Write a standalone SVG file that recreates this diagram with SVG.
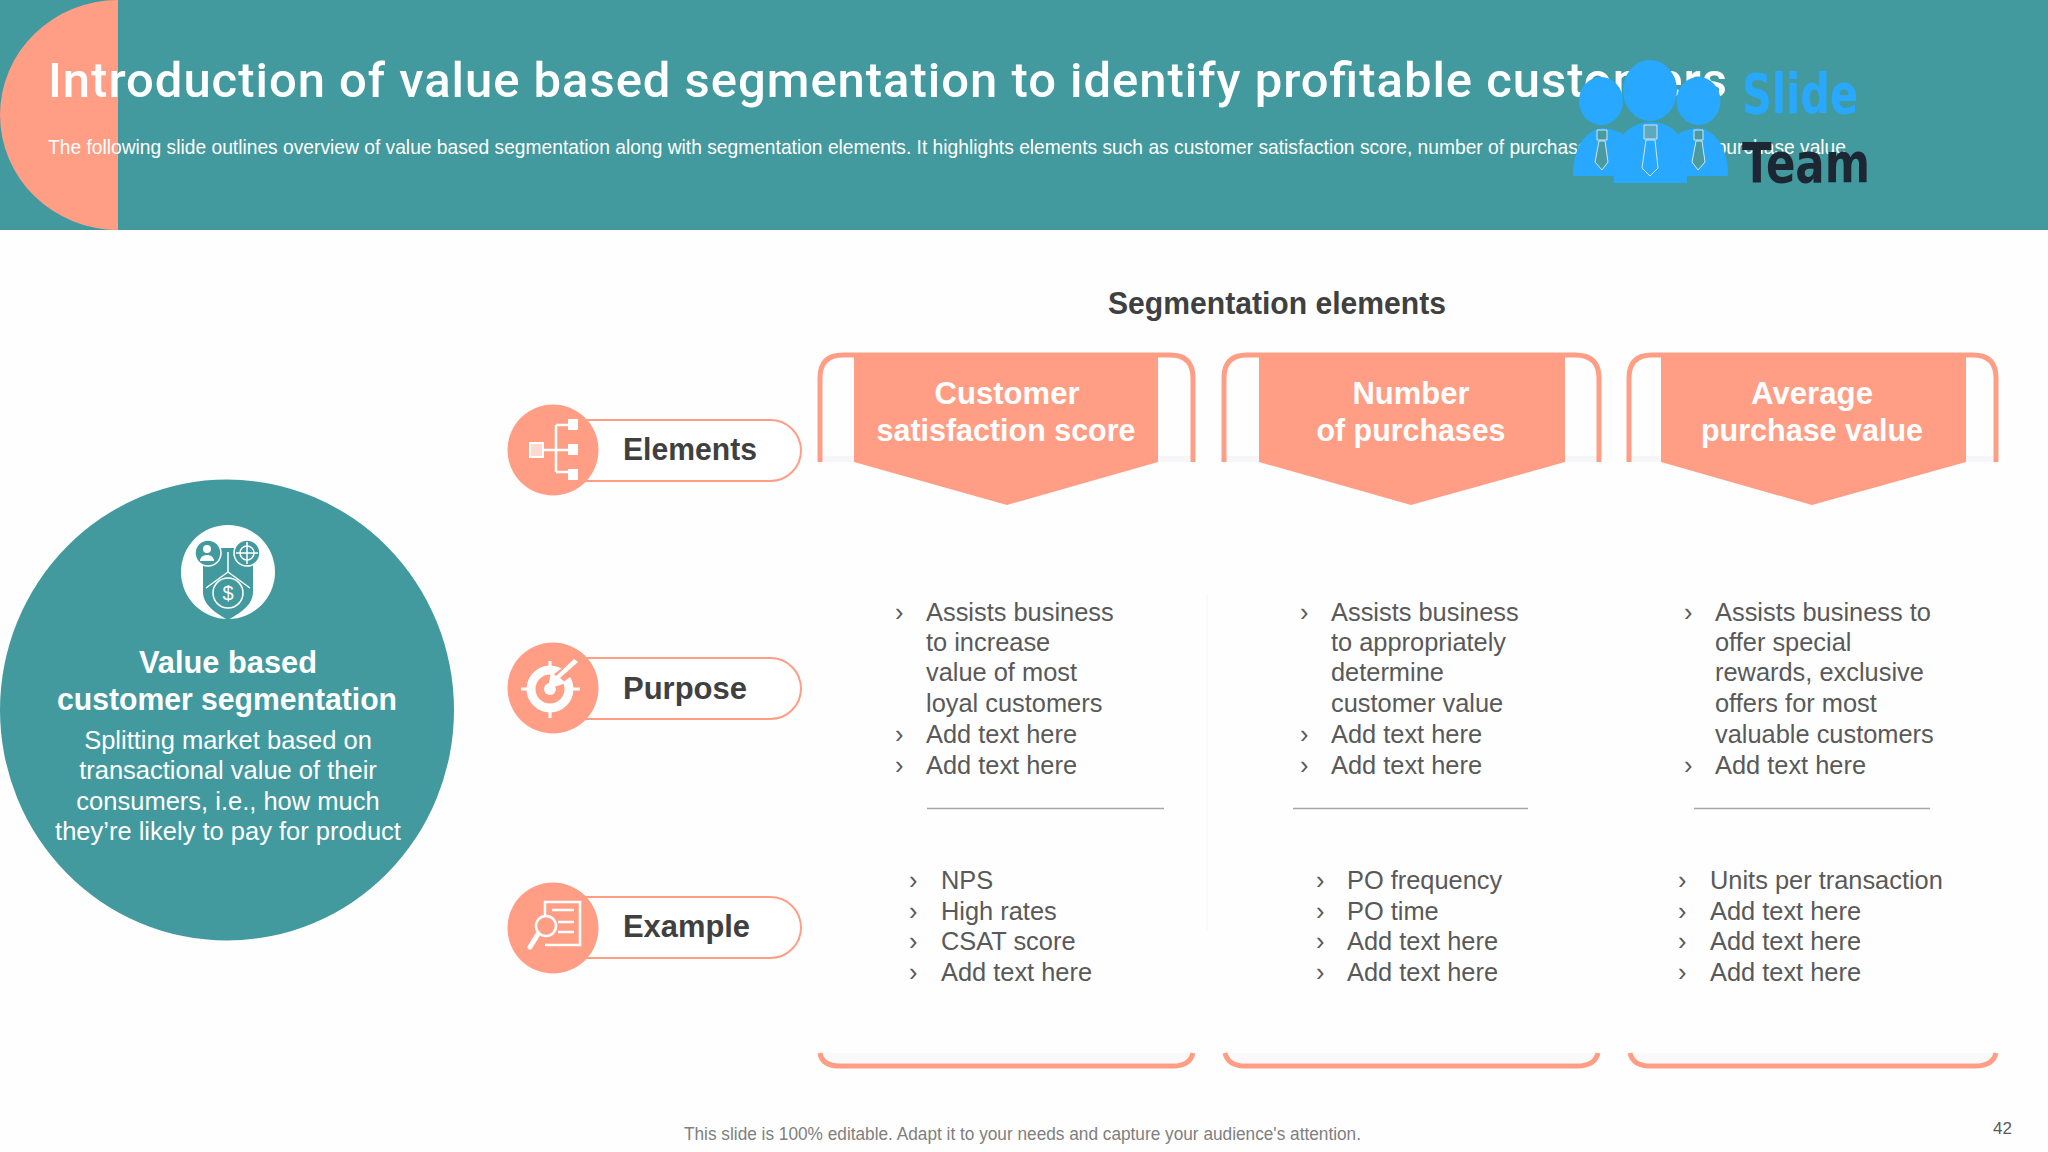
<svg xmlns="http://www.w3.org/2000/svg" width="2048" height="1152" viewBox="0 0 2048 1152">
<defs>
<style>
text{font-family:"Liberation Sans",Arial,sans-serif}
.s{fill:#ff9e85}
.lbl{font-size:31px;font-weight:700;fill:#404040}
.hd{font-size:32px;font-weight:700;fill:#fff;text-anchor:middle}
.b{font-size:25.4px;fill:#595959}
.w{font-size:25.5px;fill:#fff;text-anchor:middle}
.wb{font-size:32px;font-weight:700;fill:#fff;text-anchor:middle}
.card{fill:none;stroke:#ff9e85;stroke-width:5}
.pill{fill:#fff;stroke:#ff9e85;stroke-width:2}
.ic{fill:none;stroke:#fff;stroke-width:2.5}
.div{stroke:#a6a6a6;stroke-width:1.5}
.sh{fill:#f6f5f7}
.tie{fill:#4a9aa0;stroke:#cfe6f2;stroke-width:1}
</style>
</defs>
<rect width="2048" height="1152" fill="#fefefe"/>
<g id="header">
<rect width="2048" height="230" fill="#429a9f"/>
<path d="M118 0A118 115 0 0 0 118 230Z" class="s"/>
<text x="48" y="97" font-size="49" font-weight="500" fill="#fff" style="font-family:Roboto,sans-serif" textLength="1679" lengthAdjust="spacing">Introduction of value based segmentation to identify profitable customers</text>
<text x="48" y="154" font-size="21" fill="#fff" textLength="1798" lengthAdjust="spacingAndGlyphs">The following slide outlines overview of value based segmentation along with segmentation elements. It highlights elements such as customer satisfaction score, number of purchases and average purchase value</text>
</g>
<g id="logo">
<g fill="#29a8ff">
<ellipse cx="1601" cy="101" rx="22" ry="24"/>
<ellipse cx="1698.500" cy="101" rx="22" ry="24"/>
<path d="M1573 176C1573 150 1583 131 1603 128C1612 129 1618 131 1624 135L1616 176Z"/>
<path d="M1677 135C1683 131 1688 129 1698 128C1718 131 1728 150 1728 176H1685Z"/>
<ellipse cx="1650" cy="90.500" rx="27" ry="30.500"/>
<path d="M1614 183V162C1614 138 1630 122 1651 122C1672 122 1687 138 1687 162V183Z"/>
</g>
<g class="tie">
<path d="M1644 125H1657V139H1644Z" style="fill:#5fa9c0"/>
<path d="M1646 140H1655L1658 168L1650 176L1642 168Z" style="fill:#29a8ff"/>
<path d="M1597 130H1607V140H1597Z"/>
<path d="M1599 141H1605L1608 162L1602 170L1595 162Z"/>
<path d="M1694 130H1703V140H1694Z"/>
<path d="M1696 141H1702L1705 162L1698 170L1692 162Z"/>
</g>
<text x="1742" y="113" font-size="56" font-weight="700" fill="#29a8ff" style="font-family:'DejaVu Sans',sans-serif" textLength="116" lengthAdjust="spacingAndGlyphs">Slide</text>
<text x="1742" y="182" font-size="56" font-weight="700" fill="#1d2733" style="font-family:'DejaVu Sans',sans-serif" textLength="128" lengthAdjust="spacingAndGlyphs">Team</text>
</g>
<g id="segment-circle">
<ellipse cx="227" cy="710" rx="227" ry="230.500" fill="#429a9f"/>
<circle cx="228" cy="572" r="47" fill="#fff"/>
<path d="M203 548H253V592C253 606 238 614 228 620C218 614 203 606 203 592Z" fill="#429a9f"/>
<circle cx="208" cy="553" r="13" fill="#429a9f" stroke="#fff" stroke-width="1.5"/>
<circle cx="247" cy="553" r="13" fill="#429a9f" stroke="#fff" stroke-width="1.5"/>
<circle cx="207" cy="549" r="4" fill="#fff"/>
<path d="M200 561C200 553 214 553 214 561Z" fill="#fff"/>
<circle cx="247" cy="553" r="7" fill="none" stroke="#fff" stroke-width="1.5"/>
<path d="M247 542V564M236 553H258M228 552V572M228 572L206 588M228 572L250 588" stroke="#fff" stroke-width="1.5" fill="none"/>
<circle cx="228" cy="593" r="15" fill="#429a9f" stroke="#fff" stroke-width="1.5"/>
<text x="228" y="600" font-size="20" fill="#fff" text-anchor="middle">$</text>
<text x="228" y="673" class="wb" textLength="178" lengthAdjust="spacingAndGlyphs">Value based</text>
<text x="227" y="710" class="wb" textLength="340" lengthAdjust="spacingAndGlyphs">customer segmentation</text>
<text x="228" y="749" class="w">Splitting market based on</text>
<text x="228" y="779" class="w">transactional value of their</text>
<text x="228" y="810" class="w">consumers, i.e., how much</text>
<text x="228" y="840" class="w">they’re likely to pay for product</text>
</g>
<g id="elements-pill">
<rect x="540" y="420" width="261" height="61" rx="30.500" class="pill"/>
<circle cx="553" cy="450" r="45.500" class="s"/>
<path d="M543 450H556M556 425V472M556 425H568M556 450H568M556 472H568" class="ic" stroke-width="1.5"/>
<rect x="530" y="443" width="13" height="14" fill="#ffd9cf" stroke="#fff" stroke-width="2"/>
<rect x="568" y="419" width="10" height="11" fill="#fff"/><rect x="568" y="444" width="10" height="11" fill="#fff"/><rect x="568" y="469" width="10" height="11" fill="#fff"/>
<text x="623" y="460" class="lbl" textLength="134" lengthAdjust="spacingAndGlyphs">Elements</text>
</g>
<g id="purpose-pill">
<rect x="540" y="658" width="261" height="61" rx="30.500" class="pill"/>
<circle cx="553" cy="688" r="45.500" class="s"/>
<circle cx="550" cy="689" r="19" fill="none" stroke="#fff" stroke-width="9"/>
<circle cx="550" cy="689" r="6" fill="#fff"/>
<path d="M550 661V668M550 710V718M521 689H530M570 689H580" stroke="#fff" stroke-width="3"/>
<path d="M579 663L552 683" stroke="#ff9e85" stroke-width="12"/>
<path d="M578 662L560 678L566 683L548 689L551 671L556 676L574 659Z" fill="#fff"/>
<text x="623" y="699" class="lbl" textLength="124" lengthAdjust="spacingAndGlyphs">Purpose</text>
</g>
<g id="example-pill">
<rect x="540" y="897" width="261" height="61" rx="30.500" class="pill"/>
<circle cx="553" cy="928" r="45.500" class="s"/>
<path d="M545 919V902H580V945H545" class="ic"/>
<path d="M552 910H574M558 922H574M558 932H574" class="ic"/>
<circle cx="546" cy="926" r="10" class="ic" style="fill:#ff9e85"/>
<path d="M538 934L530 947" stroke="#fff" stroke-width="5" stroke-linecap="round"/>
<text x="623" y="937" class="lbl" textLength="127" lengthAdjust="spacingAndGlyphs">Example</text>
</g>
<text id="segmentation-heading" x="1277" y="314" font-size="32" font-weight="700" fill="#404040" text-anchor="middle" textLength="338" lengthAdjust="spacingAndGlyphs">Segmentation elements</text>
<g id="dividers">
<path d="M1207 595V930" stroke="#f7f7f7" stroke-width="1.5"/>
<path d="M927 808.500H1164M1293 808.500H1528M1694 808.500H1930" class="div"/>
</g>
<g id="col-satisfaction">
<rect x="820" y="456" width="373" height="6" class="sh"/>
<rect x="822" y="1053" width="370" height="10" class="sh" style="fill:#f9f9f9"/>
<path d="M820 462V378Q820 355 843 355H1170Q1193 355 1193 378V462" class="card"/>
<path d="M820 1053Q822 1066 840 1066H1173Q1190 1066 1193 1053" class="card"/>
<path d="M854 353H1158V462L1007 505L854 462Z" class="s"/>
<text x="1007" y="404" class="hd" textLength="145" lengthAdjust="spacingAndGlyphs">Customer</text>
<text x="1006" y="441" class="hd" textLength="259" lengthAdjust="spacingAndGlyphs">satisfaction score</text>
<g class="b">
<text x="895" y="620.500">›</text><text x="926" y="620.500">Assists business</text>
<text x="926" y="651">to increase</text>
<text x="926" y="681">value of most</text>
<text x="926" y="711.500">loyal customers</text>
<text x="895" y="742.500">›</text><text x="926" y="742.500">Add text here</text>
<text x="895" y="774">›</text><text x="926" y="774">Add text here</text>
<text x="909" y="889">›</text><text x="941" y="889">NPS</text>
<text x="909" y="919.500">›</text><text x="941" y="919.500">High rates</text>
<text x="909" y="950">›</text><text x="941" y="950">CSAT score</text>
<text x="909" y="980.500">›</text><text x="941" y="980.500">Add text here</text>
</g>
</g>
<g id="col-purchases">
<rect x="1224" y="456" width="375" height="6" class="sh"/>
<rect x="1227" y="1053" width="370" height="10" class="sh" style="fill:#f9f9f9"/>
<path d="M1224 462V378Q1224 355 1247 355H1575Q1599 355 1599 378V462" class="card"/>
<path d="M1225 1053Q1228 1066 1245 1066H1577Q1595 1066 1598 1053" class="card"/>
<path d="M1259 353H1565V462L1411 505L1259 462Z" class="s"/>
<text x="1411" y="404" class="hd" textLength="117" lengthAdjust="spacingAndGlyphs">Number</text>
<text x="1411" y="441" class="hd" textLength="189" lengthAdjust="spacingAndGlyphs">of purchases</text>
<g class="b">
<text x="1300" y="620.500">›</text><text x="1331" y="620.500">Assists business</text>
<text x="1331" y="651">to appropriately</text>
<text x="1331" y="681">determine</text>
<text x="1331" y="711.500">customer value</text>
<text x="1300" y="742.500">›</text><text x="1331" y="742.500">Add text here</text>
<text x="1300" y="774">›</text><text x="1331" y="774">Add text here</text>
<text x="1316" y="889">›</text><text x="1347" y="889">PO frequency</text>
<text x="1316" y="919.500">›</text><text x="1347" y="919.500">PO time</text>
<text x="1316" y="950">›</text><text x="1347" y="950">Add text here</text>
<text x="1316" y="980.500">›</text><text x="1347" y="980.500">Add text here</text>
</g>
</g>
<g id="col-value">
<rect x="1629" y="456" width="367" height="6" class="sh"/>
<rect x="1632" y="1053" width="362" height="10" class="sh" style="fill:#f9f9f9"/>
<path d="M1629 462V378Q1629 355 1652 355H1973Q1996 355 1996 378V462" class="card"/>
<path d="M1630 1053Q1633 1066 1650 1066H1975Q1993 1066 1996 1053" class="card"/>
<path d="M1661 353H1966V462L1812 505L1661 462Z" class="s"/>
<text x="1812" y="404" class="hd" textLength="122" lengthAdjust="spacingAndGlyphs">Average</text>
<text x="1812" y="441" class="hd" textLength="222" lengthAdjust="spacingAndGlyphs">purchase value</text>
<g class="b">
<text x="1684" y="620.500">›</text><text x="1715" y="620.500">Assists business to</text>
<text x="1715" y="651">offer special</text>
<text x="1715" y="681">rewards, exclusive</text>
<text x="1715" y="711.500">offers for most</text>
<text x="1715" y="742.500">valuable customers</text>
<text x="1684" y="774">›</text><text x="1715" y="774">Add text here</text>
<text x="1678" y="889">›</text><text x="1710" y="889">Units per transaction</text>
<text x="1678" y="919.500">›</text><text x="1710" y="919.500">Add text here</text>
<text x="1678" y="950">›</text><text x="1710" y="950">Add text here</text>
<text x="1678" y="980.500">›</text><text x="1710" y="980.500">Add text here</text>
</g>
</g>
<g id="footer">
<text x="684" y="1140" font-size="17.500" fill="#7f7f7f" textLength="677" lengthAdjust="spacingAndGlyphs">This slide is 100% editable. Adapt it to your needs and capture your audience's attention.</text>
<text x="1993" y="1134" font-size="17" fill="#595959">42</text>
</g>
</svg>
